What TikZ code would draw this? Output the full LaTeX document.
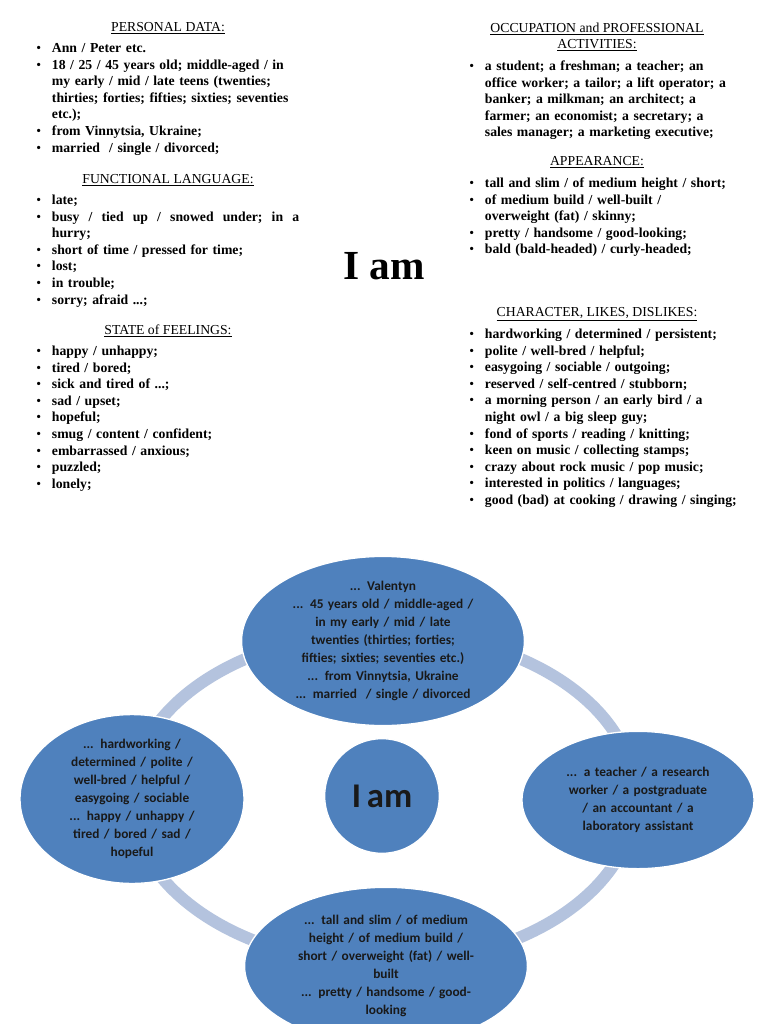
\documentclass[tikz,border=0pt]{standalone}
\usepackage{fontspec}
\setmainfont{Liberation Serif}
\newfontfamily\calfont[WordSpace=0.75]{Carlito}
\usepackage{enumitem}
\usetikzlibrary{shapes.geometric}
\definecolor{nodeblue}{RGB}{79,129,189}
\definecolor{ringblue}{RGB}{180,195,222}
\setlist[itemize]{leftmargin=14pt,labelsep=8pt,itemsep=0pt,topsep=0pt,parsep=0pt,partopsep=0pt}
\tikzset{
  head/.style={inner sep=0pt,font=\fontsize{10.3}{12.4}\selectfont,align=center},
  items/.style={anchor=north west,inner sep=0pt,text width=204pt,align=left,font=\fontsize{10.3}{12.4}\selectfont\bfseries},
  blob/.style={ellipse,fill=nodeblue,draw=white,line width=1pt,inner sep=0pt,align=center,
    font=\calfont\fontsize{10}{13.5}\selectfont\bfseries,text=black!90}
}
\begin{document}
\begin{tikzpicture}[x=0.75pt,y=0.75pt,yscale=-1,xscale=1]
\useasboundingbox (0,0) rectangle (768,1024);
\fill[white] (0,0) rectangle (768,1024);

% left column
\node[head] (hpers) at (168,28) {\underline{PERSONAL DATA:}};
\node[items] (lpers) at (33,36) {\begin{itemize}
\item Ann / Peter etc.
\item 18 / 25 / 45 years old; middle-aged / in\\ my early / mid / late teens (twenties;\\ thirties; forties; fifties; sixties; seventies\\ etc.);
\item from Vinnytsia, Ukraine;
\item married \ / single / divorced;
\end{itemize}};
\node[head] (hfunc) at (168,180) {\underline{FUNCTIONAL LANGUAGE:}};
\node[items] (lfunc) at (33,188) {\begin{itemize}
\item late;
\item busy \ / \ tied \ up \ / \ snowed \ under; \ in \ a\\ hurry;
\item short of time / pressed for time;
\item lost;
\item in trouble;
\item sorry; afraid ...;
\end{itemize}};
\node[head] (hfeel) at (168,331) {\underline{STATE of FEELINGS:}};
\node[items] (lfeel) at (33,339) {\begin{itemize}
\item happy / unhappy;
\item tired / bored;
\item sick and tired of ...;
\item sad / upset;
\item hopeful;
\item smug / content / confident;
\item embarrassed / anxious;
\item puzzled;
\item lonely;
\end{itemize}};

% right column
\node[head] (hocc) at (597,37) {\underline{OCCUPATION and PROFESSIONAL}\\\underline{ACTIVITIES:}};
\node[items] (locc) at (466,54) {\begin{itemize}
\item a student; a freshman; a teacher; an\\ office worker; a tailor; a lift operator; a\\ banker; a milkman; an architect; a\\ farmer; an economist; a secretary; a\\ sales manager; a marketing executive;
\end{itemize}};
\node[head] (happ) at (597,162) {\underline{APPEARANCE:}};
\node[items] (lapp) at (466,171) {\begin{itemize}
\item tall and slim / of medium height / short;
\item of medium build / well-built /\\ overweight (fat) / skinny;
\item pretty / handsome / good-looking;
\item bald (bald-headed) / curly-headed;
\end{itemize}};
\node[head] (hchar) at (597,314) {\underline{CHARACTER, LIKES, DISLIKES:}};
\node[items] (lchar) at (466,322) {\begin{itemize}
\item hardworking / determined / persistent;
\item polite / well-bred / helpful;
\item easygoing / sociable / outgoing;
\item reserved / self-centred / stubborn;
\item a morning person / an early bird / a\\ night owl / a big sleep guy;
\item fond of sports / reading / knitting;
\item keen on music / collecting stamps;
\item crazy about rock music / pop music;
\item interested in politics / languages;
\item good (bad) at cooking / drawing / singing;
\end{itemize}};

\node[font=\fontsize{31}{31}\selectfont\bfseries] (title) at (384,266) {I am};

% diagram
\draw[ringblue,line width=9pt] (383,798) ellipse [x radius=252,y radius=166];
\node[blob,minimum width=203pt,minimum height=116pt,text width=150pt] (top) at (383,641)
  {... Valentyn\\... 45 years old / middle-aged /\\in my early / mid / late\\twenties (thirties; forties;\\fifties; sixties; seventies etc.)\\... from Vinnytsia, Ukraine\\... married \ / single / divorced};
\node[blob,minimum width=168pt,minimum height=109pt,text width=110pt] (left) at (132,799)
  {... hardworking /\\determined / polite /\\well-bred / helpful /\\easygoing / sociable\\... happy / unhappy /\\tired / bored / sad /\\hopeful};
\node[blob,minimum width=174pt,minimum height=103pt,text width=120pt] (right) at (638,800)
  {... a teacher / a research\\worker / a postgraduate\\/ an accountant / a\\laboratory assistant};
\node[blob,minimum width=205pt,minimum height=118pt,text width=150pt] (bottom) at (386,966)
  {... tall and slim / of medium\\height / of medium build /\\short / overweight (fat) / well-\\built\\... pretty / handsome / good-\\looking};
\node[blob,minimum width=86pt,minimum height=86pt,font=\calfont\fontsize{26}{26}\selectfont\bfseries] (iam) at (382,796) {I am};
\end{tikzpicture}
\end{document}
